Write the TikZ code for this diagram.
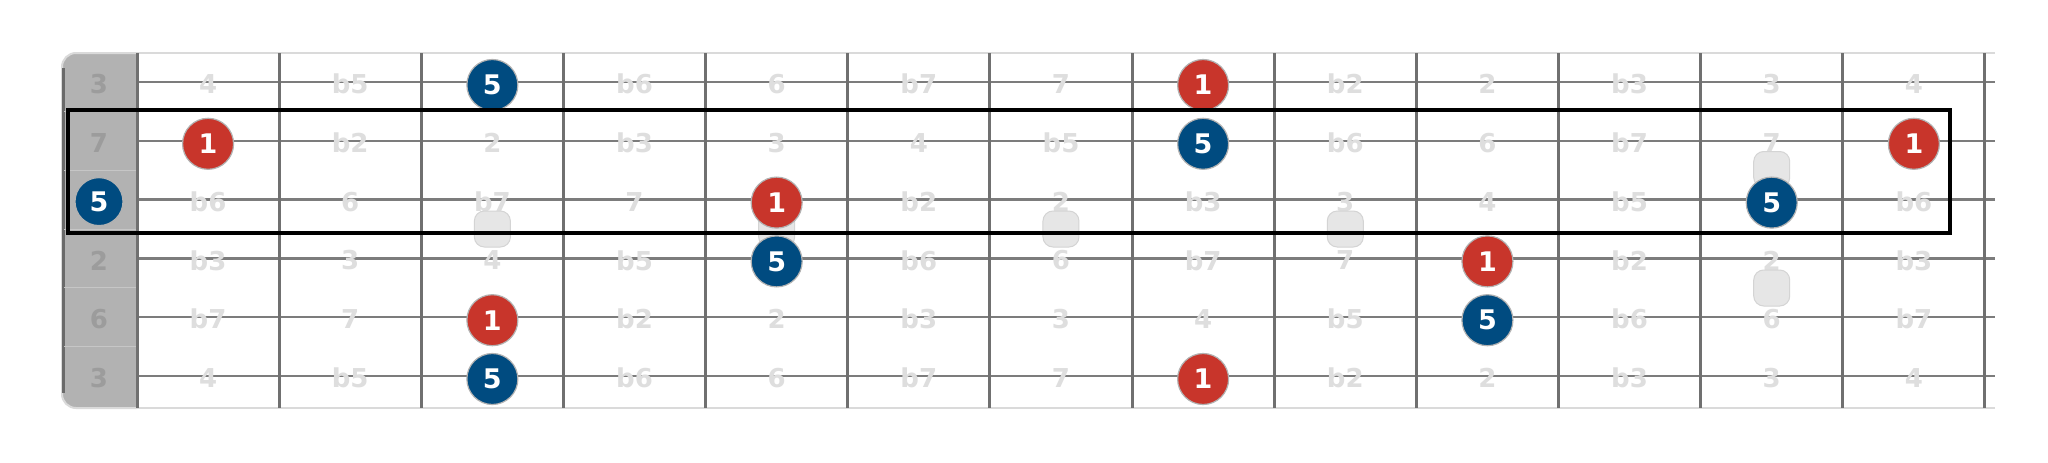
\documentclass[tikz,border=0pt]{standalone}
\usepackage{fontspec}
\newfontfamily\dvs{DejaVu Sans}
\definecolor{redn}{HTML}{C8352B}
\definecolor{bluen}{HTML}{004B80}
\definecolor{nutfill}{HTML}{B2B2B2}
\definecolor{nutlab}{HTML}{9C9C9C}
\definecolor{nutsep}{HTML}{C6C6C6}
\definecolor{nutedge}{HTML}{6A6A6A}
\definecolor{edgec}{HTML}{DADADA}
\definecolor{fretc}{HTML}{707070}
\definecolor{stringc}{HTML}{7C7C7C}
\definecolor{labc}{HTML}{DEDEDE}
\definecolor{markfill}{HTML}{E6E6E6}
\definecolor{markdraw}{HTML}{D4D4D4}
\begin{document}
\begin{tikzpicture}[x=1pt,y=-1pt,
  lab/.style={text=labc,inner sep=0pt,font=\dvs\bfseries\fontsize{26}{26}\selectfont},
  nutlabel/.style={text=nutlab,inner sep=0pt,font=\dvs\bfseries\fontsize{26}{26}\selectfont},
  dot/.style={circle,minimum size=51pt,inner sep=0pt,draw=black!30,line width=1.2pt,text=white,font=\dvs\bfseries\fontsize{27}{27}\selectfont},
  reddot/.style={dot,fill=redn},
  bluedot/.style={dot,fill=bluen},
  marker/.style={rectangle,rounded corners=10pt,minimum size=36pt,inner sep=0pt,fill=markfill,draw=markdraw,line width=1pt},
  fretline/.style={fretc,line width=3pt},
  stringline/.style={stringc,line width=2.5pt},
  boxframe/.style={black,line width=4pt}
]
\useasboundingbox (0,0) rectangle (2048,463);
\fill[white] (0,0) rectangle (2048,463);
% nut
\fill[nutfill,rounded corners=14pt] (62,53) rectangle (170,408);
\fill[white] (137,53) rectangle (2000,408);
\draw[edgec,line width=2pt,rounded corners=14pt] (137,53) -- (62,53) -- (62,408) -- (137,408);
\draw[nutedge,line width=2.5pt] (63.5,68) -- (63.5,393);
\foreach \yy in {111.4,170.2,229,287.8,346.6}
  \draw[nutsep,line width=1pt] (64,\yy) -- (136,\yy);
% board edges
\draw[edgec,line width=2pt] (137,53) -- (1995,53);
\draw[edgec,line width=2pt] (137,408) -- (1995,408);
% strings
\foreach \s in {0,...,5}
  \draw[stringline] (137,82+58.8*\s) -- (1995,82+58.8*\s);
% frets
\foreach \k in {0,...,13}
  \draw[fretline] (137+142.15*\k,53) -- (137+142.15*\k,408);
% nut labels
\foreach \r/\t in {1/3,2/7,4/2,5/6,6/3}
  \node[nutlabel] (nut-\r) at (99,82+58.8*\r-58.8+2) {\t};
% interval labels
\foreach \c/\t in {1/4,2/b5,4/b6,5/6,6/b7,7/7,9/b2,10/2,11/b3,12/3,13/4}
  \node[lab] (lab-1-\c) at (65.925+142.15*\c,84) {\t};
\foreach \c/\t in {2/b2,3/2,4/b3,5/3,6/4,7/b5,9/b6,10/6,11/b7,12/7}
  \node[lab] (lab-2-\c) at (65.925+142.15*\c,142.8) {\t};
\foreach \c/\t in {1/b6,2/6,3/b7,4/7,6/b2,7/2,8/b3,9/3,10/4,11/b5,13/b6}
  \node[lab] (lab-3-\c) at (65.925+142.15*\c,201.6) {\t};
\foreach \c/\t in {1/b3,2/3,3/4,4/b5,6/b6,7/6,8/b7,9/7,11/b2,12/2,13/b3}
  \node[lab] (lab-4-\c) at (65.925+142.15*\c,260.4) {\t};
\foreach \c/\t in {1/b7,2/7,4/b2,5/2,6/b3,7/3,8/4,9/b5,11/b6,12/6,13/b7}
  \node[lab] (lab-5-\c) at (65.925+142.15*\c,319.2) {\t};
\foreach \c/\t in {1/4,2/b5,4/b6,5/6,6/b7,7/7,9/b2,10/2,11/b3,12/3,13/4}
  \node[lab] (lab-6-\c) at (65.925+142.15*\c,378) {\t};
% fret markers
\foreach \c in {3,5,7,9}
  \node[marker] (mark-\c) at (65.925+142.15*\c,229) {};
\node[marker] (mark-12a) at (65.925+142.15*12,169.5) {};
\node[marker] (mark-12b) at (65.925+142.15*12,288) {};
% note dots
\node[bluedot] (dot-1-3) at (65.925+142.15*3,85) {5};
\node[reddot] (dot-1-8) at (65.925+142.15*8,85) {1};
\node[reddot] (dot-2-1) at (65.925+142.15*1,143.8) {1};
\node[bluedot] (dot-2-8) at (65.925+142.15*8,143.8) {5};
\node[reddot] (dot-2-13) at (65.925+142.15*13,143.8) {1};
\node[bluedot,minimum size=48pt] (dot-3-0) at (99,201.6) {5};
\node[reddot] (dot-3-5) at (65.925+142.15*5,202.6) {1};
\node[bluedot] (dot-3-12) at (65.925+142.15*12,202.6) {5};
\node[bluedot] (dot-4-5) at (65.925+142.15*5,261.4) {5};
\node[reddot] (dot-4-10) at (65.925+142.15*10,261.4) {1};
\node[reddot] (dot-5-3) at (65.925+142.15*3,320.2) {1};
\node[bluedot] (dot-5-10) at (65.925+142.15*10,320.2) {5};
\node[bluedot] (dot-6-3) at (65.925+142.15*3,379) {5};
\node[reddot] (dot-6-8) at (65.925+142.15*8,379) {1};
% selection box
\draw[boxframe] (68,110) rectangle (1950,233);
\end{tikzpicture}
\end{document}
